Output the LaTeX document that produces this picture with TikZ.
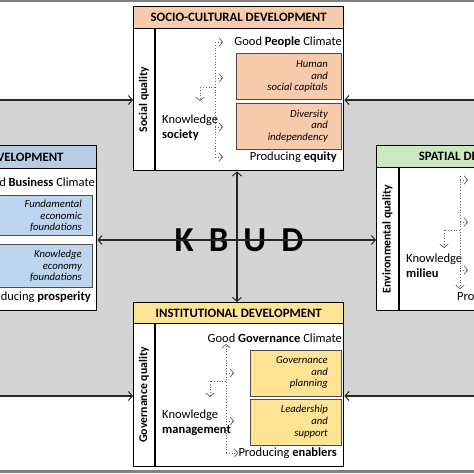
\documentclass[tikz,border=0pt]{standalone}
\usepackage{fontspec}
\setmainfont{Carlito}
\usetikzlibrary{arrows.meta}
\definecolor{bg}{RGB}{212,212,212}
\definecolor{peach}{RGB}{248,203,173}
\definecolor{lblue}{RGB}{189,213,238}
\definecolor{tblue}{RGB}{184,204,228}
\definecolor{lgreen}{RGB}{204,232,190}
\definecolor{lyellow}{RGB}{255,228,150}
\definecolor{framegray}{RGB}{128,128,128}
\tikzset{
  frame/.style={draw=black, line width=1.4pt, fill=white, inner sep=0pt, anchor=north west},
  titlebar/.style={draw=black, line width=1.4pt, inner sep=0pt, anchor=north west, font=\fontsize{12.8}{14}\selectfont\bfseries},
  stripbox/.style={draw=black, line width=1pt, fill=white, inner sep=0pt, anchor=north west},
  stripline/.style={line width=2.4pt},
  striptext/.style={rotate=90, font=\fontsize{11.8}{13}\selectfont\bfseries, inner sep=0pt},
  ibox/.style={draw=black!70, line width=0.9pt, inner sep=0pt, anchor=north west},
  itext/.style={align=right, anchor=east, inner sep=0pt, font=\fontsize{10.7}{11.7}\selectfont\itshape},
  ntext/.style={inner sep=0pt, font=\fontsize{12.5}{15}\selectfont},
  dots/.style={dotted, line width=0.8pt, draw=black!60},
  chev/.style={dots, -{Straight Barb[length=3.5pt,width=8.5pt,line width=0.7pt]}},
  mainline/.style={line width=1.3pt, draw=black!85},
  mainarrow/.style={mainline, -{Straight Barb[length=4pt,width=9pt,line width=1pt]}},
  kbudtext/.style={inner sep=0pt, font=\fontsize{35}{37}\selectfont\bfseries}
}
\begin{document}
\begin{tikzpicture}[x=1pt,y=-1pt]
\useasboundingbox (0,0) rectangle (474,474);
\begin{scope}
\clip (0,0) rectangle (474,474);
\fill[bg] (-20,100) rectangle (494,396);
\draw[framegray, line width=2.5pt] (-5,1) -- (479,1);
\draw[framegray, line width=3pt] (-5,471.5) -- (479,471.5);

% ---------- socio-cultural (top) ----------
\node[frame, minimum width=210pt, minimum height=164pt] (scf) at (133,6) {};
\node[titlebar, fill=peach, minimum width=210pt, minimum height=22pt] (sct) at (133,6) {SOCIO-CULTURAL DEVELOPMENT};
\node[stripbox, minimum width=21pt, minimum height=142pt] (scs) at (133,28) {};
\draw[stripline] (scs.north east) -- (scs.south east);
\node[striptext] (scq) at (scs.center) {Social quality};
\node[ntext, anchor=east] (scg) at (342,42) {Good \textbf{People} Climate};
\node[ibox, fill=peach, minimum width=105pt, minimum height=46pt] (scb1) at (236,53) {};
\node[itext] (scb1t) at (328,76.5) {Human\\and\\social capitals};
\node[ibox, fill=peach, minimum width=105pt, minimum height=46pt] (scb2) at (236,103) {};
\node[itext] (scb2t) at (328,126) {Diversity\\and\\independency};
\node[ntext, anchor=east] (scp) at (337,157) {Producing \textbf{equity}};
\node[ntext, anchor=west, align=left] (sck) at (162,128) {Knowledge\\\textbf{society}};
\coordinate (scv1) at (215,42);
\coordinate (scv2) at (215,157);
\coordinate (scbr) at (215,87);
\coordinate (scbl) at (200,87);
\coordinate (scbd) at (200,101);
\draw[dots] (scv1) -- (scv2);
\draw[chev] (scv1) -- ++(8,0);
\draw[chev] (215,78) -- ++(8,0);
\draw[chev] (215,127) -- ++(8,0);
\draw[chev] (scv2) -- ++(8,0);
\draw[dots] (scbr) -- (scbl);
\draw[chev] (scbl) -- (scbd);

% ---------- economic (left) ----------
\node[frame, minimum width=210pt, minimum height=165pt] (ecf) at (-114,145) {};
\node[titlebar, fill=tblue, minimum width=210pt, minimum height=23pt] (ect) at (-114,145) {ECONOMIC DEVELOPMENT};
\node[ntext, anchor=east] (ecg) at (95,182) {Good \textbf{Business} Climate};
\node[ibox, fill=lblue, minimum width=103pt, minimum height=40pt] (ecb1) at (-11,195) {};
\node[itext] (ecb1t) at (82,216) {Fundamental\\economic\\foundations};
\node[ibox, fill=lblue, minimum width=103pt, minimum height=43pt] (ecb2) at (-11,244) {};
\node[itext] (ecb2t) at (82,266) {Knowledge\\economy\\foundations};
\node[ntext, anchor=east] (ecp) at (91,297) {Producing \textbf{prosperity}};

% ---------- spatial (right) ----------
\node[frame, minimum width=210pt, minimum height=165pt] (spf) at (376,145) {};
\node[titlebar, fill=lgreen, minimum width=210pt, minimum height=22pt] (spt) at (376,145) {SPATIAL DEVELOPMENT};
\node[stripbox, minimum width=22pt, minimum height=143pt] (sps) at (376,167) {};
\draw[stripline] (sps.north east) -- (sps.south east);
\node[striptext] (spq) at (sps.center) {Environmental quality};
\node[ntext, anchor=west, align=left] (spk) at (406,266) {Knowledge\\\textbf{milieu}};
\node[ntext, anchor=west] (spp) at (457,297) {Producing};
\coordinate (spv1) at (460,176);
\coordinate (spv2) at (460,289);
\coordinate (spbr) at (460,230);
\coordinate (spbl) at (444,230);
\coordinate (spbd) at (444,248);
\draw[chev] (spv1) -- (spv2);
\draw[chev] (460,180) -- ++(8,0);
\draw[chev] (460,222) -- ++(8,0);
\draw[chev] (460,270) -- ++(8,0);
\draw[dots] (spbr) -- (spbl);
\draw[chev] (spbl) -- (spbd);

% ---------- institutional (bottom) ----------
\node[frame, minimum width=210pt, minimum height=164pt] (inf) at (133,302) {};
\node[titlebar, fill=lyellow, minimum width=210pt, minimum height=21pt] (int) at (133,302) {INSTITUTIONAL DEVELOPMENT};
\node[stripbox, minimum width=21pt, minimum height=143pt] (ins) at (133,323) {};
\draw[stripline] (ins.north east) -- (ins.south east);
\node[striptext] (inq) at (ins.center) {Governance quality};
\node[ntext, anchor=east] (ing) at (342,338) {Good \textbf{Governance} Climate};
\node[ibox, fill=lyellow, minimum width=91pt, minimum height=46pt] (inb1) at (250,350) {};
\node[itext] (inb1t) at (328,372.5) {Governance\\and\\planning};
\node[ibox, fill=lyellow, minimum width=91pt, minimum height=46pt] (inb2) at (250,399) {};
\node[itext] (inb2t) at (328,421.5) {Leadership\\and\\support};
\node[ntext, anchor=east] (inp) at (337,453) {Producing \textbf{enablers}};
\node[ntext, anchor=west, align=left] (ink) at (162,423) {Knowledge\\\textbf{management}};
\coordinate (inv1) at (226,453);
\coordinate (inv2) at (226,344);
\coordinate (inbr) at (226,381);
\coordinate (inbl) at (210,381);
\coordinate (inbd) at (210,397);
\draw[chev] (inv1) -- (inv2);
\draw[chev] (226,373) -- ++(8,0);
\draw[chev] (226,421) -- ++(8,0);
\draw[chev] (inv1) -- (inp.west);
\draw[dots] (inbr) -- (inbl);
\draw[chev] (inbl) -- (inbd);

% ---------- centre ----------
\node[kbudtext] (kbud) at (239,240) {K\hspace{15pt}B\hspace{15pt}U\hspace{15pt}D};
\draw[mainline, {Straight Barb[length=4pt,width=9pt,line width=1pt]}-{Straight Barb[length=4pt,width=9pt,line width=1pt]}] (scf.south -| kbud.center) ++(-2,0) coordinate (vtop) (vtop) -- (vtop |- inf.north);
\draw[mainline, {Straight Barb[length=4pt,width=9pt,line width=1pt]}-{Straight Barb[length=4pt,width=9pt,line width=1pt]}] (ecf.east |- kbud.center) -- (spf.west |- kbud.center);

% ---------- corner connectors ----------
\coordinate (ctl) at (-20,100);
\coordinate (ctr) at (494,100);
\coordinate (cbl) at (-20,396);
\coordinate (cbr) at (494,396);
\draw[mainarrow] (ctl) -- (scf.west |- ctl);
\draw[mainarrow] (ctr) -- (scf.east |- ctr);
\draw[mainarrow] (cbl) -- (inf.west |- cbl);
\draw[mainarrow] (cbr) -- (inf.east |- cbr);
\end{scope}
\end{tikzpicture}
\end{document}
